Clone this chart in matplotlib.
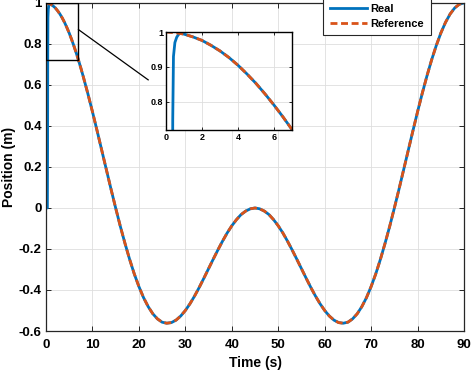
import matplotlib
matplotlib.use("Agg")
import matplotlib.pyplot as plt
from matplotlib.patches import Rectangle

# reference trajectory (half-second steps at the start for the zoom box)
ref_time = [0, 0.5, 1, 1.5, 2, 2.5, 3, 3.5, 4, 4.5, 5, 5.5, 6, 6.5, 7, 7.5,
            8, 9, 10, 11, 12, 13, 14, 15, 16, 17, 18, 19, 20, 21, 22, 23, 24, 25, 26, 27,
            28, 29, 30, 31, 32, 33, 34, 35, 36, 37, 38, 39, 40, 41, 42, 43, 44, 45,
            46, 47, 48, 49, 50, 51, 52, 53, 54, 55, 56, 57, 58, 59, 60, 61, 62, 63,
            64, 65, 66, 67, 68, 69, 70, 71, 72, 73, 74, 75, 76, 77, 78, 79, 80, 81,
            82, 83, 84, 85, 86, 87, 88, 89, 90]
ref_pos = [1.000, 0.998, 0.994, 0.986, 0.976, 0.962, 0.946, 0.927, 0.905, 0.880,
           0.853, 0.823, 0.791, 0.757, 0.721, 0.683,
           0.643, 0.559, 0.470, 0.377, 0.282, 0.187, 0.092, 0.000, -0.089, -0.172,
           -0.250, -0.321, -0.383, -0.437, -0.481, -0.516, -0.541, -0.557, -0.562, -0.559,
           -0.547, -0.527, -0.500, -0.467, -0.429, -0.387, -0.342, -0.296, -0.250, -0.205,
           -0.162, -0.122, -0.087, -0.057, -0.032, -0.015, -0.004, 0.000,
           -0.004, -0.015, -0.032, -0.057, -0.087, -0.122, -0.162, -0.205, -0.250, -0.296,
           -0.342, -0.387, -0.429, -0.467, -0.500, -0.527, -0.547, -0.559, -0.562, -0.557,
           -0.541, -0.516, -0.481, -0.437, -0.383, -0.321, -0.250, -0.172, -0.089, 0.000,
           0.092, 0.187, 0.282, 0.377, 0.470, 0.559, 0.643, 0.721, 0.791, 0.853,
           0.905, 0.946, 0.976, 0.994, 1.000]

# real system start-up, after t = 1 s it sits on the reference
real_start_time = [0, 0.3, 0.35, 0.38, 0.42, 0.5, 0.6, 0.7, 0.8, 0.9]
real_start_pos = [0.0, 0.0, 0.3, 0.75, 0.93, 0.97, 0.985, 0.993, 0.996, 0.995]
real_time = real_start_time + ref_time[2:]
real_pos = real_start_pos + ref_pos[2:]

x_ticks = [0, 10, 20, 30, 40, 50, 60, 70, 80, 90]
y_ticks = [-0.6, -0.4, -0.2, 0, 0.2, 0.4, 0.6, 0.8, 1]
y_ticklabels = ["-0.6", "-0.4", "-0.2", "0", "0.2", "0.4", "0.6", "0.8", "1"]

inset_xlim = (0, 7)
inset_ylim = (0.72, 1.0)
inset_xticks = [0, 2, 4, 6]
inset_yticks = [0.8, 0.9, 1]
inset_yticklabels = ["0.8", "0.9", "1"]

BLUE = "#0072BD"
ORANGE = "#D95319"

plt.rcParams["font.family"] = ["Liberation Sans", "DejaVu Sans"]
plt.rcParams["font.weight"] = "bold"


def style_axes(ax, tick_size):
    ax.grid(True, color="#dedede", linewidth=0.6)
    ax.set_axisbelow(True)
    ax.tick_params(direction="in", top=True, right=True, length=3.5, width=0.7,
                   labelsize=tick_size, colors="#262626", labelcolor="black")
    for s in ax.spines.values():
        s.set_color("#262626")
        s.set_linewidth(0.9)
    for lbl in ax.get_xticklabels() + ax.get_yticklabels():
        lbl.set_fontweight("bold")


def draw_curves(ax):
    ax.plot(real_time, real_pos, color=BLUE, lw=2, label="Real")
    ax.plot(ref_time, ref_pos, color=ORANGE, lw=2, linestyle=(0, (2.5, 1.3)),
            label="Reference")


def main():
    fig = plt.figure(figsize=(4.74, 3.70), dpi=100)
    ax = fig.add_axes([0.097, 0.1054, 0.882, 0.8866])
    draw_curves(ax)
    ax.set_xlim(0, 90)
    ax.set_ylim(-0.6, 1.0)
    ax.set_xticks(x_ticks)
    ax.set_yticks(y_ticks)
    ax.set_yticklabels(y_ticklabels)
    style_axes(ax, 9.5)
    ax.tick_params(axis="x", pad=6)
    ax.tick_params(axis="y", pad=3)
    ax.set_xlabel("Time (s)", fontsize=10, fontweight="bold", labelpad=3)
    ax.set_ylabel("Position (m)", fontsize=10, fontweight="bold", labelpad=2)

    # zoom box and its connector
    ax.add_patch(Rectangle((inset_xlim[0], inset_ylim[0]),
                           inset_xlim[1] - inset_xlim[0], inset_ylim[1] - inset_ylim[0],
                           fill=False, edgecolor="black", lw=1, zorder=5))
    ax.plot([7, 22], [0.87, 0.625], color="black", lw=0.9, zorder=5)

    # legend box runs past the top edge, as in the original
    leg = ax.legend(loc="upper right", bbox_to_anchor=(0.921, 1.018), borderaxespad=0,
                    fontsize=8, handlelength=3.4, handletextpad=0.3, borderpad=0.6,
                    labelspacing=0.45, fancybox=False, framealpha=1, edgecolor="#262626")
    leg.get_frame().set_linewidth(0.8)
    for t in leg.get_texts():
        t.set_fontweight("bold")

    axin = fig.add_axes([0.350, 0.649, 0.266, 0.2645])
    draw_curves(axin)
    axin.set_xlim(*inset_xlim)
    axin.set_ylim(*inset_ylim)
    axin.set_xticks(inset_xticks)
    axin.set_yticks(inset_yticks)
    axin.set_yticklabels(inset_yticklabels)
    style_axes(axin, 6.5)
    axin.tick_params(pad=2, length=2.5)
    for s in axin.spines.values():
        s.set_color("black")
        s.set_linewidth(1.0)

    fig.savefig("out.png", dpi=100)


if __name__ == "__main__":
    main()
